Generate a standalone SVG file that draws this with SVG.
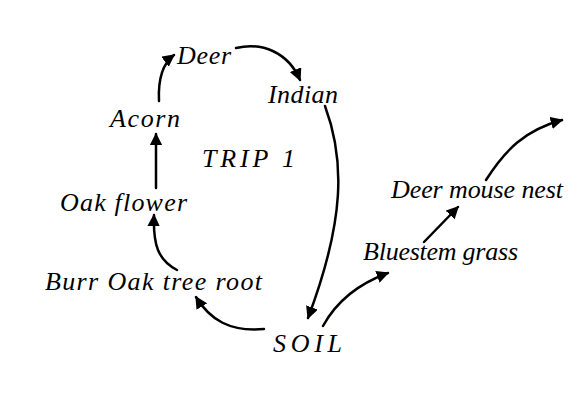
<svg xmlns="http://www.w3.org/2000/svg" width="587" height="405" viewBox="0 0 587 405">
<style>
text{font-family:'Liberation Serif','Times New Roman',serif;font-style:italic;font-size:26px;fill:#000}
.c{fill:none;stroke:#000;stroke-width:2.5;stroke-linecap:round}
</style>
<defs>
<marker id="a" viewBox="0 0 10 10" refX="9" refY="5" markerWidth="5" markerHeight="5" orient="auto" markerUnits="strokeWidth">
<path d="M0,0 L10,5 L0,10 z" fill="#000"/>
</marker>
</defs>
<rect width="587" height="405" fill="#fff"/>
<g id="connectors">
<path class="c" marker-end="url(#a)" d="M159,101 C158,80 162,64 174,55"/>
<path class="c" marker-end="url(#a)" d="M236,48 C262,42 288,52 300,80"/>
<path class="c" marker-end="url(#a)" d="M325,106 C345,160 345,220 308,318"/>
<path class="c" marker-end="url(#a)" d="M264,329 C230,332 210,320 196,297"/>
<path class="c" marker-end="url(#a)" d="M177,270 C158,260 153,245 154,215"/>
<path class="c" marker-end="url(#a)" d="M156,188 L156,134"/>
<path class="c" marker-end="url(#a)" d="M323,326 C335,304 355,285 388,273"/>
<path class="c" marker-end="url(#a)" d="M424,242 L458,207"/>
<path class="c" marker-end="url(#a)" d="M486,180 C505,150 525,130 562,120"/>
</g>
<g id="deer"><text x="177" y="64" textLength="54">Deer</text></g>
<g id="indian"><text x="268" y="103" textLength="70">Indian</text></g>
<g id="acorn"><text x="110" y="127" textLength="70">Acorn</text></g>
<g id="trip"><text x="202" y="167" textLength="93">TRIP 1</text></g>
<g id="oakflower"><text x="60" y="211" textLength="127">Oak flower</text></g>
<g id="burroak"><text x="45" y="290" textLength="217">Burr Oak tree root</text></g>
<g id="soil"><text x="273" y="352" textLength="69">SOIL</text></g>
<g id="bluestem"><text x="363" y="260" textLength="155">Bluestem grass</text></g>
<g id="deermouse"><text x="391" y="198" textLength="172">Deer mouse nest</text></g>
</svg>
